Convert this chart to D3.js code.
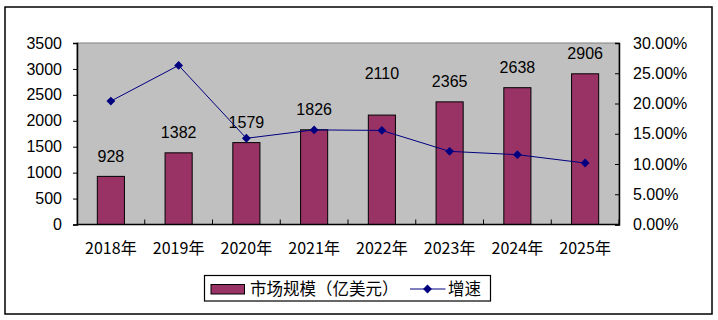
<!DOCTYPE html>
<html>
<head>
<meta charset="utf-8">
<script src="https://cdn.jsdelivr.net/npm/d3@7"></script>
<style>
  body { margin: 0; background: #fff; }
  svg { display: block; }
</style>
</head>
<body>
<div id="chart"></div>
<script>
// data
var years = ["2018年", "2019年", "2020年", "2021年", "2022年", "2023年", "2024年", "2025年"];
var marketSize = [928, 1382, 1579, 1826, 2110, 2365, 2638, 2906];
var growth = [0.204, 0.263, 0.1425, 0.1564, 0.1555, 0.1209, 0.1154, 0.1016];
var leftTicks = [0, 500, 1000, 1500, 2000, 2500, 3000, 3500];
var rightTicks = [0, 0.05, 0.10, 0.15, 0.20, 0.25, 0.30];

var W = 718, H = 320;
var plot = {left: 77, right: 619, top: 43, bottom: 224.5};
var numFont = "'Liberation Sans', Arial, sans-serif";
var cjkFont = "'Noto Sans CJK SC', 'Noto Sans', sans-serif";

var svg = d3.select("#chart")
  .append("svg")
  .attr("width", W)
  .attr("height", H);

// outer frame
svg.append("rect")
  .attr("x", 5).attr("y", 7)
  .attr("width", 707).attr("height", 307)
  .attr("fill", "#fff")
  .attr("stroke", "#000")
  .attr("stroke-width", 1.5);

// scales
var x = d3.scaleBand()
  .domain(years)
  .range([plot.left, plot.right]);

var y = d3.scaleLinear()
  .domain([0, 3500])
  .range([plot.bottom, plot.top]);

var y2 = d3.scaleLinear()
  .domain([0, 0.30])
  .range([plot.bottom, plot.top]);

// plot area
svg.append("rect")
  .attr("x", plot.left).attr("y", plot.top)
  .attr("width", plot.right - plot.left)
  .attr("height", plot.bottom - plot.top)
  .attr("fill", "#c0c0c0")
  .attr("stroke", "#808080")
  .attr("stroke-width", 1);

// bars
var barW = x.bandwidth() * 0.4;
svg.selectAll(".bar")
  .data(marketSize)
  .enter()
  .append("rect")
    .attr("class", "bar")
    .attr("x", function(d, i) { return x(years[i]) + (x.bandwidth() - barW) / 2; })
    .attr("y", function(d) { return y(d); })
    .attr("width", barW)
    .attr("height", function(d) { return plot.bottom - y(d); })
    .attr("fill", "#993366")
    .attr("stroke", "#000")
    .attr("stroke-width", 1);

// bar value labels (2022 label sits higher, above the line)
svg.selectAll(".vlabel")
  .data(marketSize)
  .enter()
  .append("text")
    .attr("class", "vlabel")
    .attr("x", function(d, i) { return x(years[i]) + x.bandwidth() / 2; })
    .attr("y", function(d, i) { return y(d) - (i == 4 ? 42 : 20); })
    .attr("dy", "0.35em")
    .attr("text-anchor", "middle")
    .style("font-family", numFont)
    .style("font-size", "16px")
    .style("fill", "#000")
    .text(function(d) { return d; });

// left axis
var leftAxis = svg.append("g")
  .attr("transform", "translate(" + plot.left + ",0)")
  .call(d3.axisLeft(y).tickValues(leftTicks).tickSize(4).tickPadding(11)
    .tickFormat(d3.format("d")));
leftAxis.select(".domain").attr("stroke", "#000").attr("stroke-width", 1.5);
leftAxis.selectAll(".tick line").attr("stroke", "#000");
leftAxis.selectAll("text")
  .style("font-family", numFont)
  .style("font-size", "16px")
  .style("fill", "#000");

// right axis (ticks point inward)
var rightAxis = svg.append("g")
  .attr("transform", "translate(" + plot.right + ",0)")
  .call(d3.axisRight(y2).tickValues(rightTicks).tickSize(-4).tickPadding(14)
    .tickFormat(d3.format(".2%")));
rightAxis.select(".domain").attr("stroke", "#000").attr("stroke-width", 1.5);
rightAxis.selectAll(".tick line").attr("stroke", "#000");
rightAxis.selectAll("text")
  .style("font-family", numFont)
  .style("font-size", "16px")
  .style("fill", "#000");

// bottom axis: tick marks at category boundaries, pointing up
var bottom = svg.append("g");
bottom.append("line")
  .attr("x1", plot.left).attr("x2", plot.right)
  .attr("y1", plot.bottom).attr("y2", plot.bottom)
  .attr("stroke", "#000").attr("stroke-width", 1.5);
bottom.selectAll(".btick")
  .data(years.slice(1).concat(["end"]))
  .enter()
  .append("line")
    .attr("x1", function(d, i) { return x(years[i]) + x.bandwidth(); })
    .attr("x2", function(d, i) { return x(years[i]) + x.bandwidth(); })
    .attr("y1", plot.bottom)
    .attr("y2", plot.bottom - 5)
    .attr("stroke", "#000");
bottom.selectAll(".xlabel")
  .data(years)
  .enter()
  .append("text")
    .attr("x", function(d) { return x(d) + x.bandwidth() / 2; })
    .attr("y", 248.5)
    .attr("dy", "0.35em")
    .attr("text-anchor", "middle")
    .style("font-family", cjkFont)
    .style("font-size", "16px")
    .style("fill", "#000")
    .text(function(d) { return d; });

// growth line
var line = d3.line()
  .x(function(d, i) { return x(years[i]) + x.bandwidth() / 2; })
  .y(function(d) { return y2(d); });

svg.append("path")
  .datum(growth)
  .attr("d", line)
  .attr("fill", "none")
  .attr("stroke", "#000080")
  .attr("stroke-width", 1);

var diamond = d3.symbol().type(d3.symbolDiamond2).size(50);
svg.selectAll(".marker")
  .data(growth)
  .enter()
  .append("path")
    .attr("class", "marker")
    .attr("d", diamond)
    .attr("transform", function(d, i) {
      return "translate(" + (x(years[i]) + x.bandwidth() / 2) + "," + y2(d) + ")";
    })
    .attr("fill", "#000080");

// legend
var legend = svg.append("g");
legend.append("rect")
  .attr("x", 204.5).attr("y", 275.5)
  .attr("width", 286).attr("height", 25.5)
  .attr("fill", "#fff")
  .attr("stroke", "#000")
  .attr("stroke-width", 1.2);
legend.append("rect")
  .attr("x", 211).attr("y", 284.5)
  .attr("width", 33.5).attr("height", 9.5)
  .attr("fill", "#993366")
  .attr("stroke", "#000")
  .attr("stroke-width", 1);
legend.append("text")
  .attr("x", 250).attr("y", 289)
  .attr("dy", "0.35em")
  .style("font-family", cjkFont)
  .style("font-size", "16.5px")
  .style("fill", "#000")
  .text("市场规模（亿美元）");
legend.append("line")
  .attr("x1", 410).attr("x2", 445.5)
  .attr("y1", 289).attr("y2", 289)
  .attr("stroke", "#000080")
  .attr("stroke-width", 1);
legend.append("path")
  .attr("d", diamond)
  .attr("transform", "translate(427.5,289)")
  .attr("fill", "#000080");
legend.append("text")
  .attr("x", 448).attr("y", 289)
  .attr("dy", "0.35em")
  .style("font-family", cjkFont)
  .style("font-size", "16.5px")
  .style("fill", "#000")
  .text("增速");
</script>
</body>
</html>
